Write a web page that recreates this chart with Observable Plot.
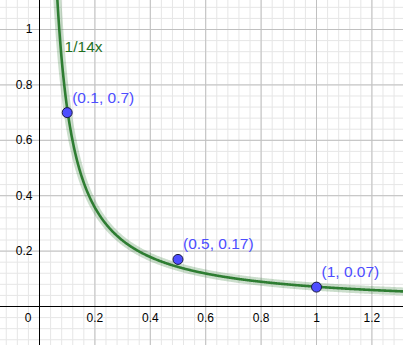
<!DOCTYPE html>
<html>
<head>
<meta charset="utf-8">
<script src="https://cdn.jsdelivr.net/npm/d3@7"></script>
<script src="https://cdn.jsdelivr.net/npm/@observablehq/plot@0.6"></script>
<style>
  html, body { margin: 0; padding: 0; background: #fff; }
  #chart svg { display: block; }
</style>
</head>
<body>
<div id="chart"></div>
<script>
// Data
const xTicks = [0.2, 0.4, 0.6, 0.8, 1, 1.2];
const yTicks = [0.2, 0.4, 0.6, 0.8, 1];
const pointX = [0.1, 0.5, 1];
const pointY = [0.7, 0.17, 0.07];
const pointLabels = ["(0.1, 0.7)", "(0.5, 0.17)", "(1, 0.07)"];
const funcLabel = "1/14x";
const funcCoef = 14;

const xDomain = [-39 / 277, 364 / 277];
const yDomain = [-39 / 277, 306 / 277];

const minorX = d3.range(-3, 34).map(i => i * 0.04).filter(v => Math.abs(v) > 1e-9);
const minorY = d3.range(-3, 28).map(i => i * 0.04).filter(v => Math.abs(v) > 1e-9);
const majorX = d3.range(-1, 7).map(i => i * 0.2).filter(v => Math.abs(v) > 1e-9);
const majorY = d3.range(-1, 6).map(i => i * 0.2).filter(v => Math.abs(v) > 1e-9);

const curve = d3.range(0.062, 1.33, 0.002).map(x => ({x, y: 1 / (funcCoef * x)}));
const points = pointX.map((x, i) => ({x, y: pointY[i], label: pointLabels[i]}));

const font = "'Liberation Sans', Arial, sans-serif";

const chart = Plot.plot({
  width: 403,
  height: 345,
  marginTop: 0, marginRight: 0, marginBottom: 0, marginLeft: 0,
  x: {domain: xDomain, axis: null},
  y: {domain: yDomain, axis: null},
  style: {background: "#fff", fontFamily: font},
  marks: [
    Plot.ruleX(minorX, {stroke: "#e6e6e6", strokeWidth: 1}),
    Plot.ruleY(minorY, {stroke: "#e6e6e6", strokeWidth: 1}),
    Plot.ruleX(majorX, {stroke: "#c0c0c0", strokeWidth: 1}),
    Plot.ruleY(majorY, {stroke: "#c0c0c0", strokeWidth: 1}),
    Plot.ruleX([0], {stroke: "#000", strokeWidth: 1}),
    Plot.ruleY([0], {stroke: "#000", strokeWidth: 1}),
    Plot.text(xTicks, {x: d => d, y: 0, text: d => String(d), dy: 12, fontSize: 12, fill: "#000"}),
    Plot.text(yTicks, {x: 0, y: d => d, text: d => String(d), dx: -7, textAnchor: "end", fontSize: 12, fill: "#000"}),
    Plot.text([0], {x: 0, y: 0, text: d => "0", dx: -8, dy: 12, textAnchor: "end", fontSize: 12, fill: "#000"}),
    Plot.line(curve, {x: "x", y: "y", stroke: "#2e7d32", strokeOpacity: 0.25, strokeWidth: 8, clip: true}),
    Plot.line(curve, {x: "x", y: "y", stroke: "#2e7d32", strokeWidth: 2.6, clip: true}),
    Plot.text([funcLabel], {x: 0.0907, y: 0.935, text: d => d, textAnchor: "start", fontSize: 15.5, fill: "#1f6f1f"}),
    Plot.dot(points, {x: "x", y: "y", r: 5, fill: "#4d4dff", stroke: "#1a1a40", strokeWidth: 1}),
    Plot.text(points, {x: "x", y: "y", text: "label", dx: 5, dy: -15, textAnchor: "start", fontSize: 15.5, fill: "#4d4dff"})
  ]
});
document.getElementById("chart").appendChild(chart);
</script>
</body>
</html>
